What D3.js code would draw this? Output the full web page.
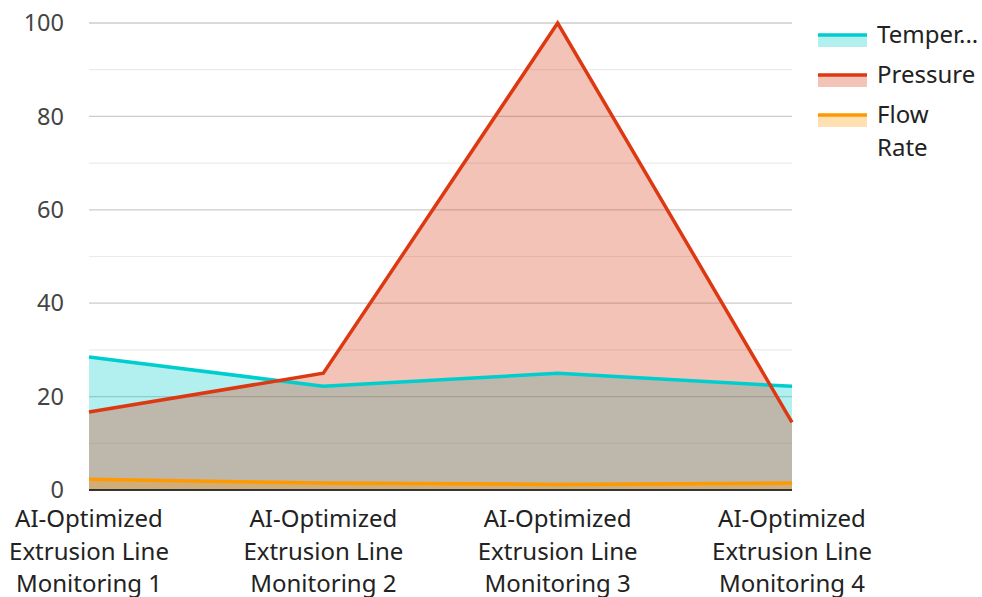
<!DOCTYPE html>
<html><head><meta charset="utf-8">
<script src="https://cdn.jsdelivr.net/npm/d3@7"></script>
<style>body{margin:0;background:#fff;}svg{display:block;font-family:"Noto Sans","Open Sans",sans-serif;}</style>
</head><body><svg id="c" width="982" height="597"></svg>
<script>
const categories = ["AI-Optimized Extrusion Line Monitoring 1","AI-Optimized Extrusion Line Monitoring 2","AI-Optimized Extrusion Line Monitoring 3","AI-Optimized Extrusion Line Monitoring 4"];
const categoryLines = [["AI-Optimized","Extrusion Line","Monitoring 1"],["AI-Optimized","Extrusion Line","Monitoring 2"],["AI-Optimized","Extrusion Line","Monitoring 3"],["AI-Optimized","Extrusion Line","Monitoring 4"]];
const seriesNames = ["Temperature","Pressure","Flow Rate"];
const legendLabels = [["Temper..."],["Pressure"],["Flow","Rate"]];
const temperature = [28.5, 22.2, 25.0, 22.2];
const pressure = [16.7, 25.0, 100, 14.5];
const flowRate = [2.3, 1.5, 1.2, 1.5];
const colors = ["#00CDCD","#DC3912","#FF9900"];
const yTicks = [0,20,40,60,80,100];
const yMinor = [10,30,50,70,90];

const svg = d3.select("#c");
const x = d3.scalePoint().domain(categories).range([89, 792]);
const y = d3.scaleLinear().domain([0,100]).range([490, 23]);

// gridlines
svg.append("g").selectAll("line").data(yMinor).join("line")
  .attr("x1",89).attr("x2",792).attr("y1",d=>y(d)).attr("y2",d=>y(d))
  .attr("stroke","#ebebeb").attr("stroke-width",1.2);
svg.append("g").selectAll("line").data(yTicks.filter(d=>d>0)).join("line")
  .attr("x1",89).attr("x2",792).attr("y1",d=>y(d)).attr("y2",d=>y(d))
  .attr("stroke","#cccccc").attr("stroke-width",1.3);

// y labels
svg.append("g").selectAll("text").data(yTicks).join("text")
  .attr("x",64).attr("y",d=>y(d)).attr("dy","0.35em").attr("text-anchor","end")
  .attr("font-size",23.5).attr("fill","#444").text(d=>d);

const data = [temperature, pressure, flowRate];
const area = d3.area().x((d,i)=>x(categories[i])).y0(y(0)).y1(d=>y(d));
const line = d3.line().x((d,i)=>x(categories[i])).y(d=>y(d));
data.forEach((vals,k)=>{
  svg.append("path").attr("d",area(vals)).attr("fill",colors[k]).attr("fill-opacity",0.3);
});
data.forEach((vals,k)=>{
  svg.append("path").attr("d",line(vals)).attr("fill","none").attr("stroke",colors[k]).attr("stroke-width",3.5);
});

// baseline
svg.append("line").attr("x1",89).attr("x2",792).attr("y1",y(0)).attr("y2",y(0)).attr("stroke","#333").attr("stroke-width",2);

// x labels
const xl = svg.append("g").selectAll("text").data(categories).join("text")
  .attr("text-anchor","middle").attr("font-size",24).attr("fill","#222");
xl.each(function(d,i){
  d3.select(this).selectAll("tspan").data(categoryLines[i]).join("tspan")
    .attr("x",x(d)).attr("y",(t,j)=>527+j*32.5).text(t=>t);
});

// legend
const lg = svg.append("g");
seriesNames.forEach((s,k)=>{
  const cy = 35 + k*40;
  lg.append("rect").attr("x",818).attr("y",cy).attr("width",49).attr("height",12).attr("fill",colors[k]).attr("fill-opacity",0.3);
  lg.append("line").attr("x1",818).attr("x2",867).attr("y1",cy).attr("y2",cy).attr("stroke",colors[k]).attr("stroke-width",3.5);
  const t = lg.append("text").attr("font-size",24).attr("fill","#222");
  legendLabels[k].forEach((ln,j)=>{
    t.append("tspan").attr("x",877).attr("y",cy+8+j*33).text(ln);
  });
});
</script></body></html>
